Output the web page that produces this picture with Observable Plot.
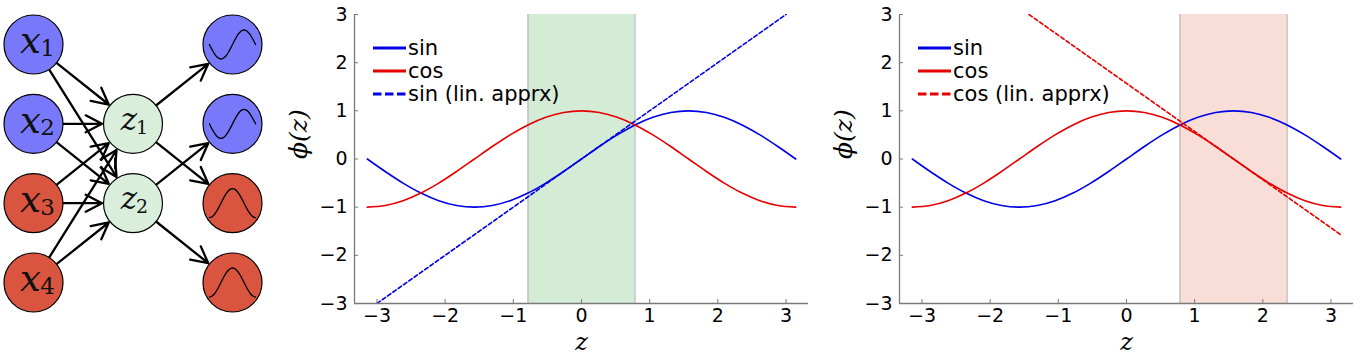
<!DOCTYPE html>
<html><head><meta charset="utf-8">
<script src="https://cdn.jsdelivr.net/npm/d3@7"></script>
<script src="https://cdn.jsdelivr.net/npm/@observablehq/plot@0.6"></script>
<style>
body{margin:0;background:#fff;}
#wrap{position:relative;width:1367px;height:363px;overflow:hidden;font-family:"DejaVu Sans";}
.panel{position:absolute;top:0;}
.legend{position:absolute;left:0;top:0;pointer-events:none;}
.math text{font-family:"DejaVu Serif",serif;font-style:italic;}
.mathup text{font-family:"DejaVu Serif",serif;font-style:normal;}
</style></head><body><div id="wrap"></div>
<script>
// ---- data ----
const zs = [-3.142, -2.880, -2.618, -2.356, -2.094, -1.833, -1.571, -1.309, -1.047, -0.785, -0.524, -0.262, 0, 0.262, 0.524, 0.785, 1.047, 1.309, 1.571, 1.833, 2.094, 2.356, 2.618, 2.880, 3.142];
const sinVals = [0, -0.259, -0.5, -0.707, -0.866, -0.966, -1, -0.966, -0.866, -0.707, -0.5, -0.259, 0, 0.259, 0.5, 0.707, 0.866, 0.966, 1, 0.966, 0.866, 0.707, 0.5, 0.259, 0];
const cosVals = [-1, -0.966, -0.866, -0.707, -0.5, -0.259, 0, 0.259, 0.5, 0.707, 0.866, 0.966, 1, 0.966, 0.866, 0.707, 0.5, 0.259, 0, -0.259, -0.5, -0.707, -0.866, -0.966, -1];
const sinLinZ = [-3.0, 3.0];
const sinLinY = [-3.0, 3.0];
const cosLinZ = [-1.43, 3.142];
const cosLinY = [3.0, -1.571];
const bandLeft = [-0.785, 0.785];
const bandRight = [0.785, 2.356];
const xTicks = [-3, -2, -1, 0, 1, 2, 3];
const yTicks = [-3, -2, -1, 0, 1, 2, 3];
const xDomain = [-3.33, 3.33];
const yDomain = [-3, 3];
const legendLeft = ["sin", "cos", "sin (lin. apprx)"];
const legendRight = ["sin", "cos", "cos (lin. apprx)"];

// network diagram
const inputLabels = ["1", "2", "3", "4"];
const inputColors = ["blue", "blue", "red", "red"];
const hiddenLabels = ["1", "2"];
const outputShapes = ["sin", "sin", "cos", "cos"];
const outputColors = ["blue", "blue", "red", "red"];
const edges = [
  ["x1","z1"],["x1","z2"],["x2","z1"],["x2","z2"],["x3","z1"],["x3","z2"],["x4","z1"],["x4","z2"],
  ["z1","o1"],["z1","o3"],["z2","o2"],["z2","o4"]
];

const C = {
  blue: "#0000e6", red: "#e60000",
  nodeBlue: "#7878fa", nodeRed: "#d9553f", nodeGreen: "#d9efdc",
  bandGreen: "#d4ecd6", bandRed: "#f8ded6", axis: "#7a7a7a"
};

const wrap = document.getElementById("wrap");

// ---- diagram ----
const nodes = [];
inputLabels.forEach((s, i) => nodes.push({id: "x" + s, layer: 0, row: i, letter: "x", sub: s, fill: inputColors[i] === "blue" ? C.nodeBlue : C.nodeRed, big: true}));
hiddenLabels.forEach((s, i) => nodes.push({id: "z" + s, layer: 1, row: i + 1, letter: "z", sub: s, fill: C.nodeGreen, big: false}));
outputShapes.forEach((s, i) => nodes.push({id: "o" + (i + 1), layer: 2, row: i, letter: "", sub: "", shape: s, fill: outputColors[i] === "blue" ? C.nodeBlue : C.nodeRed}));
const byId = Object.fromEntries(nodes.map(n => [n.id, n]));
const edgeData = edges.map(([a, b]) => ({a: byId[a], b: byId[b]}));
const iconPts = nodes.filter(n => n.shape).flatMap(n => {
  const vals = n.shape === "sin" ? sinVals : cosVals;
  return zs.map((z, i) => ({id: n.id, x: n.layer + z / Math.PI * 0.232, y: n.row - vals[i] * 0.183}));
});

const diagram = Plot.plot({
  width: 280, height: 363, margin: 0,
  x: {domain: [0, 2], range: [33, 232], axis: null},
  y: {domain: [0, 3], range: [44, 282], axis: null},
  style: {background: "transparent"},
  marks: [
    Plot.arrow(edgeData, {x1: d => d.a.layer, y1: d => d.a.row, x2: d => d.b.layer, y2: d => d.b.row,
      insetStart: 29, insetEnd: 31, stroke: "black", strokeWidth: 2.3, headLength: 12, headAngle: 55}),
    Plot.dot(nodes, {x: "layer", y: "row", r: 29.5, fill: "fill", stroke: "black", strokeWidth: 1.2}),
    Plot.line(iconPts, {x: "x", y: "y", z: "id", stroke: "black", strokeWidth: 1.3, curve: "catmull-rom"}),
    Plot.text(nodes.filter(n => n.big), {x: "layer", y: "row", text: "letter", dx: -3, dy: -3, fontSize: 37, className: "math", fill: "#111"}),
    Plot.text(nodes.filter(n => n.big), {x: "layer", y: "row", text: "sub", dx: 14, dy: 4, fontSize: 23, className: "mathup", fill: "#111"}),
    Plot.text(nodes.filter(n => n.letter && !n.big), {x: "layer", y: "row", text: "letter", dx: -4, dy: -4, fontSize: 31, className: "math", fill: "#111"}),
    Plot.text(nodes.filter(n => n.letter && !n.big), {x: "layer", y: "row", text: "sub", dx: 9, dy: 4, fontSize: 19, className: "mathup", fill: "#111"})
  ]
});
const dDiv = document.createElement("div");
dDiv.className = "panel"; dDiv.style.left = "0px";
dDiv.appendChild(diagram);
wrap.appendChild(dDiv);

// ---- function panels ----
const sinData = zs.map((z, i) => ({z, v: sinVals[i]}));
const cosData = zs.map((z, i) => ({z, v: cosVals[i]}));
const fmt = d3.format("d");

function panel(left, band, bandFill, approx, approxColor, labels) {
  const chart = Plot.plot({
    width: 530, height: 363, marginLeft: 64, marginRight: 12, marginTop: 14, marginBottom: 60,
    style: {fontFamily: "DejaVu Sans", fontSize: "19px", color: "black", background: "transparent", overflow: "visible"},
    x: {domain: xDomain},
    y: {domain: yDomain},
    marks: [
      Plot.rect([band], {x1: d => d[0], x2: d => d[1], fill: bandFill}),
      Plot.ruleX(band, {stroke: "#bbbbbb", strokeWidth: 1.3}),
      Plot.line(sinData, {x: "z", y: "v", stroke: C.blue, strokeWidth: 1.6, curve: "catmull-rom"}),
      Plot.line(cosData, {x: "z", y: "v", stroke: C.red, strokeWidth: 1.6, curve: "catmull-rom"}),
      Plot.line(approx, {x: "z", y: "v", stroke: approxColor, strokeWidth: 1.6, strokeDasharray: "4,2.5", clip: true}),
      Plot.ruleY([yDomain[0]], {stroke: C.axis, strokeWidth: 1.3}),
      Plot.ruleX([xDomain[0]], {stroke: C.axis, strokeWidth: 1.3}),
      Plot.axisX({ticks: xTicks, tickFormat: fmt, tickSize: -4, tickPadding: 9, stroke: C.axis, label: null, fill: "black"}),
      Plot.axisY({ticks: yTicks, tickFormat: fmt, tickSize: -4, tickPadding: 11, stroke: C.axis, label: null, fill: "black"}),
      Plot.text(["z"], {text: d => d, frameAnchor: "bottom", dy: 46, fontSize: 24, className: "math"}),
      Plot.text(["ϕ(z)"], {text: d => d, frameAnchor: "left", dx: -56, rotate: -90, fontSize: 25, className: "math"})
    ]
  });
  const div = document.createElement("div");
  div.className = "panel"; div.style.left = left + "px";
  div.appendChild(chart);
  // legend
  const svg = d3.create("svg").attr("class", "legend").attr("width", 320).attr("height", 120);
  const items = [
    {label: labels[0], color: C.blue, dash: null},
    {label: labels[1], color: C.red, dash: null},
    {label: labels[2], color: approxColor, dash: "8.5,3.5"}
  ];
  items.forEach((it, i) => {
    const y = 48 + i * 23;
    svg.append("line").attr("x1", 83).attr("x2", 116).attr("y1", y).attr("y2", y)
      .attr("stroke", it.color).attr("stroke-width", 3.2).attr("stroke-dasharray", it.dash);
    svg.append("text").attr("x", 118).attr("y", y).attr("dy", "0.35em")
      .attr("font-family", "DejaVu Sans").attr("font-size", 21).attr("fill", "black").text(it.label);
  });
  div.appendChild(svg.node());
  wrap.appendChild(div);
}

panel(290, bandLeft, C.bandGreen, sinLinZ.map((z, i) => ({z, v: sinLinY[i]})), C.blue, legendLeft);
panel(835, bandRight, C.bandRed, cosLinZ.map((z, i) => ({z, v: cosLinY[i]})), C.red, legendRight);
</script></body></html>
